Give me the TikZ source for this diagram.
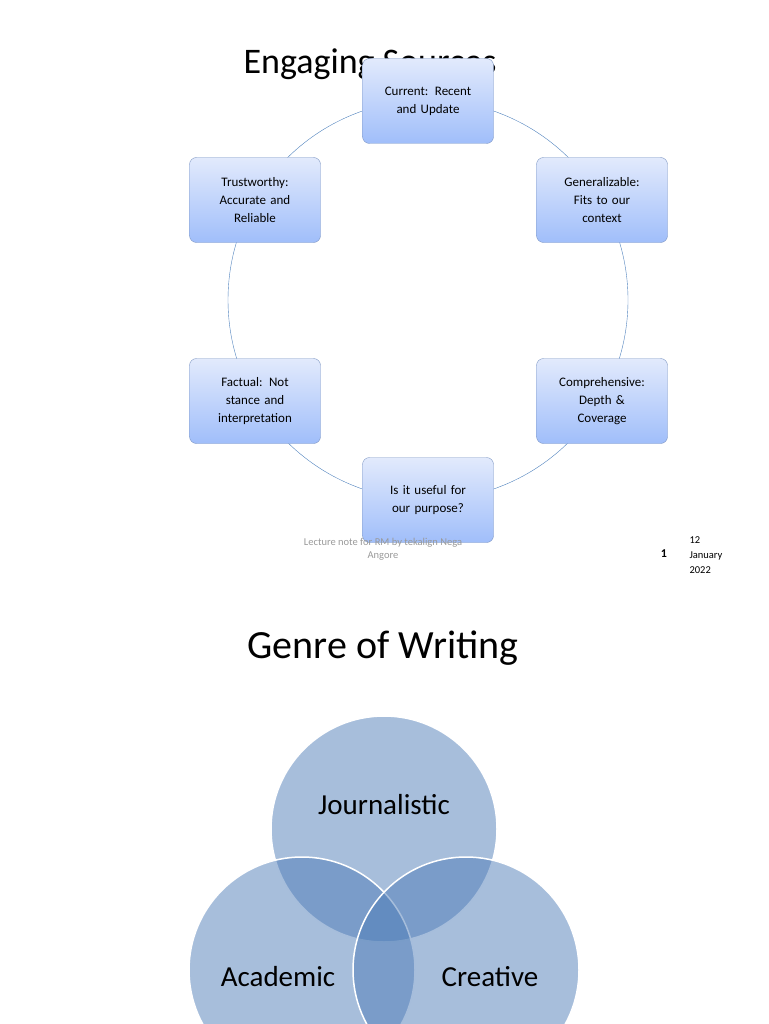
\documentclass[tikz,border=0pt]{standalone}
\usepackage{fontspec}
\setmainfont{Carlito}
\definecolor{ringc}{RGB}{79,129,189}
\definecolor{boxtop}{RGB}{226,234,252}
\definecolor{boxbot}{RGB}{160,190,250}
\definecolor{boxedge}{RGB}{125,150,195}
\definecolor{venn}{RGB}{75,122,182}
\tikzset{
 sbox/.style={draw=boxedge,rounded corners=7pt,top color=boxtop,bottom color=boxbot,minimum width=131pt,minimum height=85pt,align=center,text width=120pt,font=\fontsize{13}{18}\selectfont},
 vc/.style={circle,minimum size=226pt,fill=venn,fill opacity=0.49,draw=white,line width=1.5pt,inner sep=0pt}
}
\begin{document}
\begin{tikzpicture}[x=1pt,y=-1pt]
\useasboundingbox (0,0) rectangle (768,1024);
\clip (0,0) rectangle (768,1024);
\node (title) at (370,64) {\fontsize{36}{40}\selectfont Engaging Sources};
\node[circle,draw=ringc,minimum size=400pt,inner sep=0pt] (ring) at (428,300) {};
\node[sbox] (cur) at (428,101) {Current: Recent\\and Update};
\node[sbox] (tru) at (255,200) {Trustworthy:\\Accurate and\\Reliable};
\node[sbox] (gen) at (602,200) {Generalizable:\\Fits to our\\context};
\node[sbox] (fac) at (255,401) {Factual: Not\\stance and\\interpretation};
\node[sbox] (com) at (602,401) {Comprehensive:\\Depth \&\\Coverage};
\node[sbox] (use) at (428,500) {Is it useful for\\our purpose?};
\node[text=gray!80,align=center,font=\fontsize{10.5}{13}\selectfont] (foot) at (383,549) {Lecture note for RM by tekalign Nega\\Angore};
\node[font=\fontsize{12}{14}\selectfont\bfseries] (pg) at (664,554) {1};
\node[anchor=west,align=left,font=\fontsize{10.5}{15}\selectfont] (date) at (686,555) {12\\January\\2022};
\node (gtitle) at (383,648) {\fontsize{40}{44}\selectfont Genre of Writing};
\node[vc] (jo) at (384,829) {};
\node[vc] (ac) at (302,970) {};
\node[vc] (cr) at (466,970) {};
\node[font=\fontsize{29}{32}\selectfont] (jt) at (384,805) {Journalistic};
\node[font=\fontsize{29}{32}\selectfont] (at) at (278,977) {Academic};
\node[font=\fontsize{29}{32}\selectfont] (ct) at (490,977) {Creative};
\end{tikzpicture}
\end{document}
